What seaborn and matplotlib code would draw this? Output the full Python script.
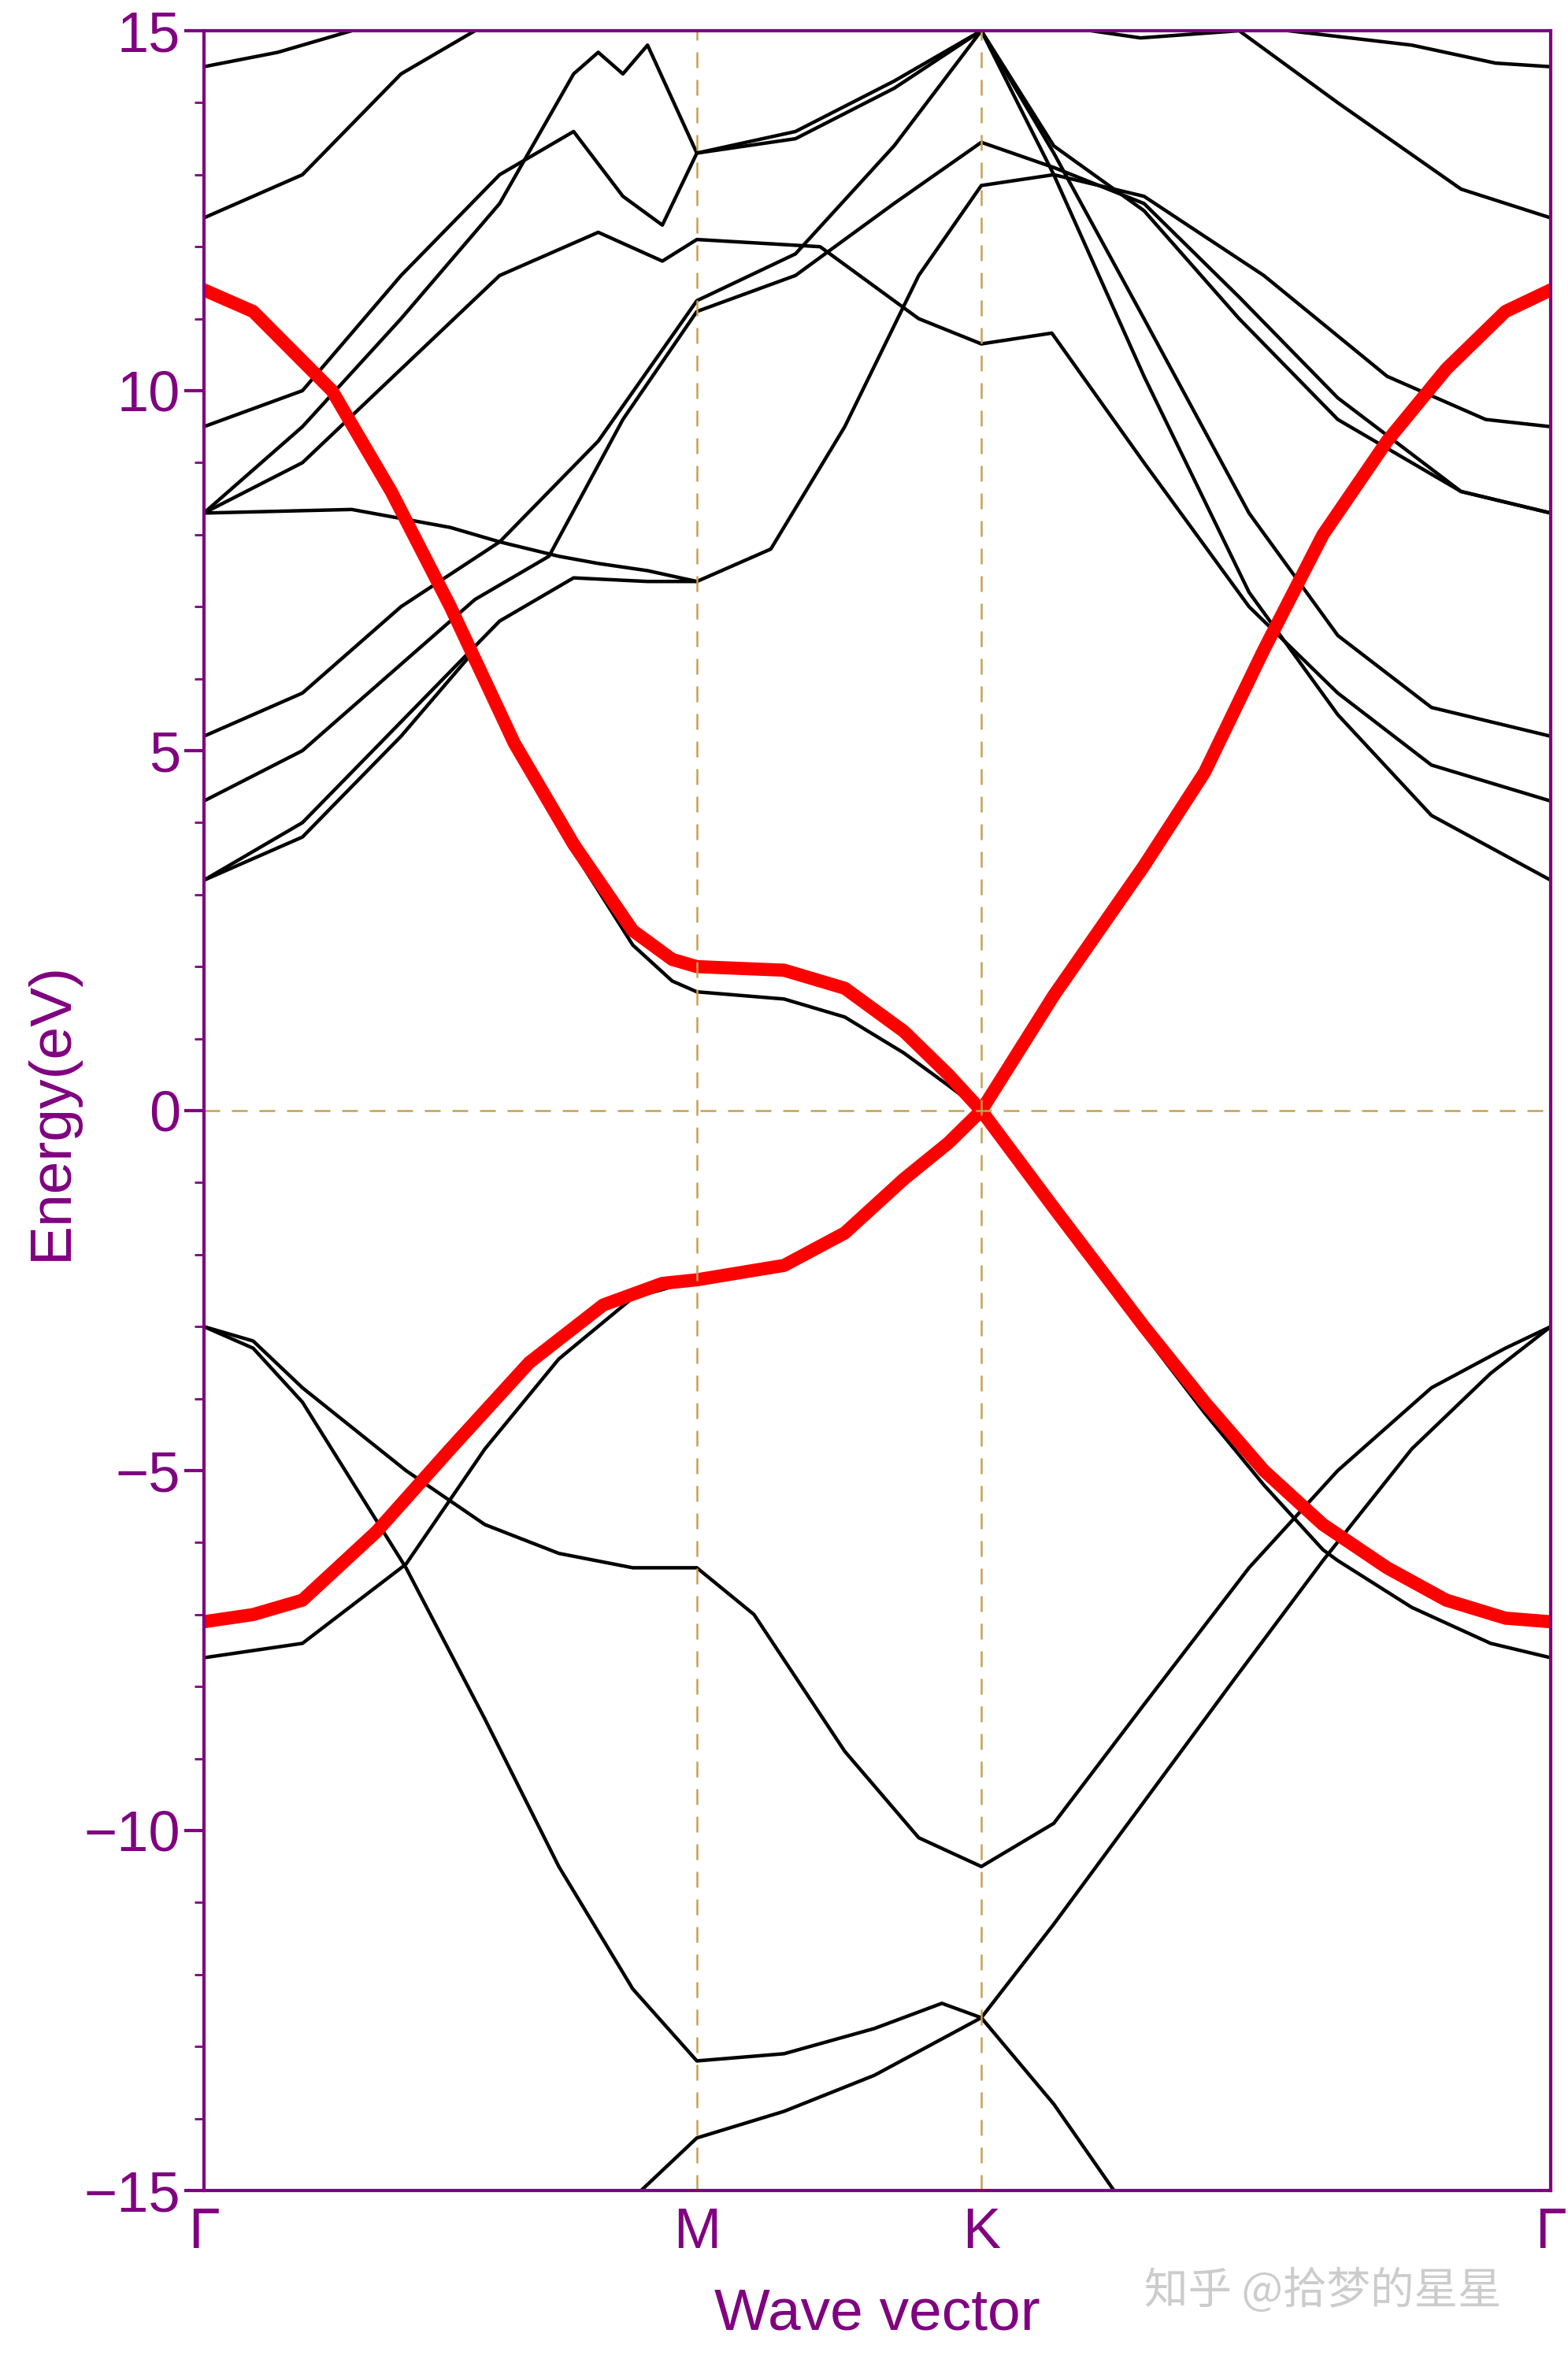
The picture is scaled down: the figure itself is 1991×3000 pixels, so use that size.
import numpy as np
import pandas as pd
import matplotlib
matplotlib.use("Agg")
import matplotlib.pyplot as plt
import seaborn as sns

sns.set_style("ticks")
plt.rcParams['font.family'] = ['Liberation Sans', 'Noto Sans CJK SC', 'DejaVu Sans']

# high-symmetry positions
k_labels = ["Γ", "M", "K", "Γ"]
k_pos = [0.0, 1.0, 1.577, 2.732]

# red pi bands (x, E)
pi_up_x = [0, 0.1, 0.26, 0.38, 0.5, 0.63, 0.75, 0.87, 0.95, 1.0, 1.177, 1.30, 1.42, 1.51, 1.577,
           1.724, 1.907, 2.03, 2.15, 2.27, 2.40, 2.52, 2.64, 2.732]
pi_up_E = [11.4, 11.1, 10.0, 8.6, 7.0, 5.1, 3.7, 2.5, 2.1, 2.0, 1.95, 1.7, 1.1, 0.5, 0.0,
           1.6, 3.4, 4.7, 6.4, 8.0, 9.3, 10.3, 11.1, 11.4]
pi_dn_x = [0, 0.1, 0.2, 0.35, 0.5, 0.66, 0.81, 0.93, 1.0, 1.177, 1.30, 1.42, 1.51, 1.577,
           1.724, 1.907, 2.03, 2.15, 2.27, 2.40, 2.52, 2.64, 2.732]
pi_dn_E = [-7.1, -7.0, -6.8, -5.85, -4.7, -3.5, -2.7, -2.4, -2.35, -2.15, -1.7, -0.95, -0.45, 0.0,
           -1.35, -3.0, -4.05, -5.0, -5.75, -6.35, -6.8, -7.05, -7.1]

# black bands
bands = {
 "v1": ([0, 0.1, 0.2, 0.41, 0.57, 0.72, 0.87, 1.0, 1.177, 1.36, 1.497, 1.577, 1.724, 1.846],
        [-3.0, -3.3, -4.05, -6.35, -8.45, -10.5, -12.2, -13.2, -13.1, -12.75, -12.4, -12.6, -13.8, -15.0]),
 "v2": ([0.887, 1.0, 1.177, 1.36, 1.577, 1.724, 1.907, 2.09, 2.27, 2.45, 2.61, 2.732],
        [-15.0, -14.27, -13.9, -13.4, -12.6, -11.3, -9.6, -7.9, -6.25, -4.7, -3.65, -3.0]),
 "v3": ([0, 0.1, 0.2, 0.41, 0.57, 0.72, 0.87, 1.0, 1.116, 1.30, 1.45, 1.577, 1.724, 1.907, 2.12, 2.30, 2.49, 2.64, 2.732],
        [-3.0, -3.2, -3.85, -5.0, -5.75, -6.15, -6.35, -6.35, -7.0, -8.9, -10.1, -10.5, -9.9, -8.25, -6.35, -5.0, -3.85, -3.3, -3.0]),
 "v4": ([0, 0.2, 0.41, 0.57, 0.72, 0.87, 1.0, 1.177, 1.30, 1.42, 1.51, 1.577, 1.724, 1.907, 2.03, 2.15, 2.27, 2.30, 2.45, 2.61, 2.732],
        [-7.6, -7.4, -6.3, -4.7, -3.45, -2.6, -2.35, -2.15, -1.7, -0.95, -0.45, 0.0, -1.4, -3.1, -4.2, -5.2, -6.1, -6.25, -6.9, -7.4, -7.6]),
 "c0": ([0, 0.2, 0.4, 0.55, 0.63, 0.75, 0.87, 0.95, 1.0, 1.177, 1.30, 1.42, 1.51, 1.577],
        [3.2, 3.8, 5.2, 6.4, 5.0, 3.6, 2.3, 1.8, 1.65, 1.55, 1.3, 0.8, 0.35, 0.0]),
 "c1": ([0, 0.2, 0.4, 0.6, 0.75, 0.9, 1.0, 1.15, 1.3, 1.45, 1.577, 1.724, 1.907, 2.15, 2.4, 2.6, 2.732],
        [3.2, 4.0, 5.4, 6.8, 7.4, 7.35, 7.35, 7.8, 9.5, 11.6, 12.85, 13.0, 12.7, 11.6, 10.2, 9.6, 9.5]),
 "c2": ([0, 0.2, 0.4, 0.55, 0.7, 0.85, 1.0, 1.2, 1.4, 1.577, 1.724, 1.907, 2.1, 2.3, 2.55, 2.732],
        [4.3, 5.0, 6.2, 7.1, 7.7, 9.6, 11.1, 11.6, 12.6, 13.45, 13.1, 12.6, 11.3, 9.9, 8.6, 8.3]),
 "c3": ([0, 0.2, 0.4, 0.6, 0.8, 1.0, 1.2, 1.4, 1.577, 1.724, 1.907, 2.1, 2.3, 2.55, 2.732],
        [5.2, 5.8, 7.0, 7.9, 9.3, 11.25, 11.9, 13.4, 15.0, 13.4, 12.5, 11.0, 9.6, 8.6, 8.3]),
 "c4": ([0, 0.3, 0.5, 0.6, 0.72, 0.8, 0.9, 1.0],
        [8.3, 8.35, 8.1, 7.9, 7.7, 7.6, 7.5, 7.35]),
 "c5": ([0, 0.2, 0.4, 0.6, 0.8, 0.93, 1.0, 1.25, 1.45, 1.577, 1.72, 1.907, 2.12, 2.30, 2.49, 2.732],
        [8.3, 9.0, 10.3, 11.6, 12.2, 11.8, 12.1, 12.0, 11.0, 10.65, 10.8, 9.0, 7.0, 5.8, 4.8, 4.3]),
 "c6": ([0, 0.2, 0.4, 0.6, 0.75, 0.85, 0.93, 1.0, 1.2, 1.4, 1.577, 1.724, 1.907, 2.12, 2.30, 2.49, 2.732],
        [9.5, 10.0, 11.6, 13.0, 13.6, 12.7, 12.3, 13.3, 13.5, 14.2, 15.0, 13.3, 11.0, 8.3, 6.6, 5.6, 5.2]),
 "c7": ([0, 0.2, 0.4, 0.6, 0.75, 0.8, 0.85, 0.9, 1.0, 1.2, 1.4, 1.577, 1.724, 1.907, 2.12, 2.30, 2.49, 2.732],
        [8.3, 9.5, 11.0, 12.6, 14.4, 14.7, 14.4, 14.8, 13.3, 13.6, 14.3, 15.0, 13.0, 10.2, 7.2, 5.5, 4.1, 3.2]),
 "c10": ([0, 0.2, 0.4, 0.55], [12.4, 13.0, 14.4, 15.0]),
 "c11": ([0, 0.15, 0.3], [14.5, 14.7, 15.0]),
 "c12": ([1.8, 1.9, 2.1, 2.3, 2.55, 2.732], [15.0, 14.9, 15.0, 14.0, 12.8, 12.4]),
 "c13": ([2.2, 2.45, 2.62, 2.732], [15.0, 14.8, 14.55, 14.5]),
}

W, H = 1991, 3000
fig = plt.figure(figsize=(W / 100, H / 100), dpi=100)
ax = fig.add_axes([0.13, 0.073, 0.859, 0.914])

for name, (xs, es) in bands.items():
    df = pd.DataFrame({"k": xs, "E": es})
    sns.lineplot(data=df, x="k", y="E", ax=ax, color="black", lw=3.2, sort=False, estimator=None)

for xs, es in [(pi_up_x, pi_up_E), (pi_dn_x, pi_dn_E)]:
    df = pd.DataFrame({"k": xs, "E": es})
    sns.lineplot(data=df, x="k", y="E", ax=ax, color="red", lw=12, sort=False, estimator=None)

dash = dict(color="#c8a050", lw=1.8, ls=(0, (8, 6)))
for xp in k_pos[1:3]:
    ax.axvline(xp, **dash)
ax.axhline(0, **dash)

purple = "#800080"
ax.set_xlim(0, 2.732)
ax.set_ylim(-15, 15)
ax.set_xticks(k_pos)
ax.set_xticklabels(k_labels)
ax.set_yticks([-15, -10, -5, 0, 5, 10, 15])
ax.set_yticklabels(["−15", "−10", "−5", "0", "5", "10", "15"])
ax.set_yticks(np.arange(-15, 16, 1), minor=True)
for s in ax.spines.values():
    s.set_color(purple)
    s.set_linewidth(3)
ax.tick_params(axis="both", colors=purple, labelsize=52, width=3, length=18)
ax.tick_params(axis="y", which="minor", colors=purple, width=2, length=9)
ax.tick_params(axis="x", length=0, pad=15)
ax.set_xlabel("Wave vector", color=purple, fontsize=54, labelpad=25)
ax.set_ylabel("Energy(eV)", color=purple, fontsize=54, labelpad=5)
fig.text(0.73, 0.025, "知乎 @拾梦的星星", color="#cccccc", fontsize=40,
         family=['Noto Sans CJK SC', 'DejaVu Sans'])

fig.savefig("out.png", dpi=100)
